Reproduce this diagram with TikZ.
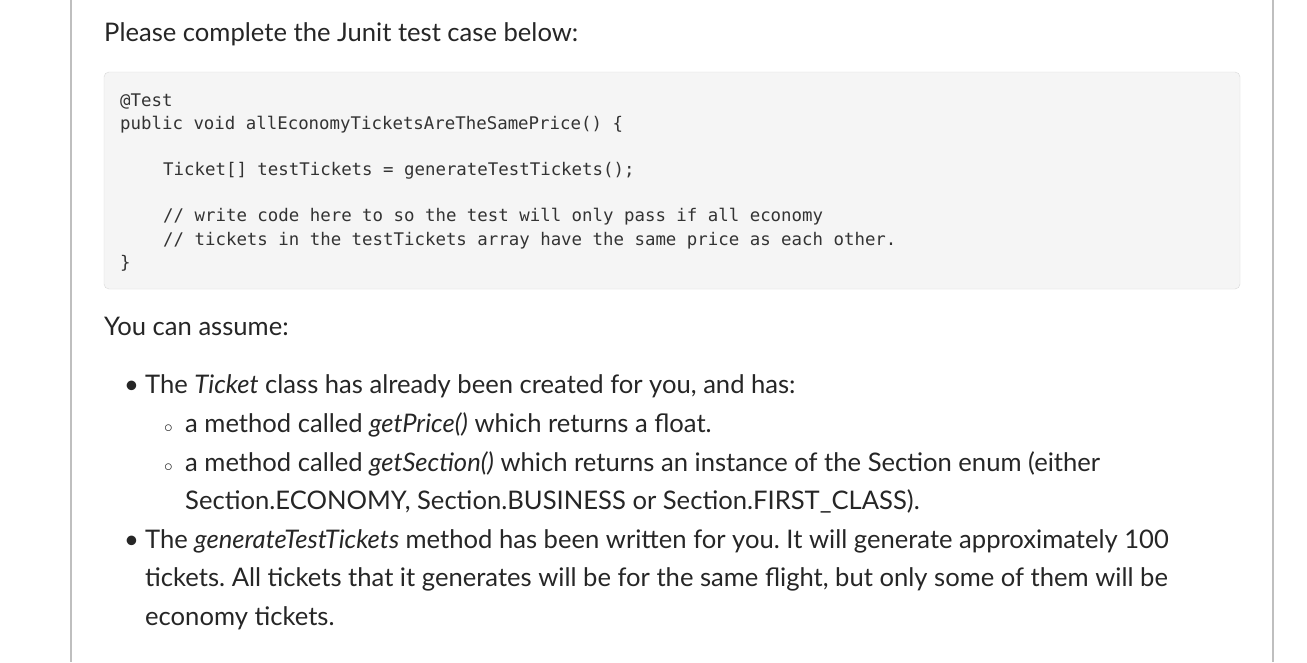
\documentclass[tikz,border=0pt]{standalone}
\usepackage{fontspec}
\setmainfont{Lato}
\setmonofont{DejaVu Sans Mono}
\begin{document}
\frenchspacing
\begin{tikzpicture}[x=1pt,y=-1pt,
  txt/.style={anchor=base west,inner sep=0pt,font=\fontsize{25.6}{30}\selectfont,text=black!85},
  code/.style={anchor=base west,inner sep=0pt,font=\ttfamily\fontsize{17.4}{20}\selectfont,text=black!80}]
\useasboundingbox (0,0) rectangle (1307,662);
\fill[white] (0,0) rectangle (1307,662);
\draw[black!25,line width=1.2] (71,0) -- (71,662) (1273,0) -- (1273,662);
\draw[black!15,fill=black!4,rounded corners=5] (104,72) rectangle (1240,289);
\node[txt] (t1) at (104,41) {Please complete the Junit test case below:};
\node[code] (c1) at (120,106) {@Test};
\node[code] (c2) at (120,129) {public void allEconomyTicketsAreTheSamePrice() \{};
\node[code] (c3) at (163,175) {Ticket[] testTickets = generateTestTickets();};
\node[code] (c4) at (163,221) {// write code here to so the test will only pass if all economy};
\node[code] (c5) at (163,245) {// tickets in the testTickets array have the same price as each other.};
\node[code] (c6) at (120,268) {\}};
\node[txt] (t2) at (104,335) {You can assume:};
\node[txt] (b1) at (124,393) {•};
\node[txt] (l1) at (145,393) {The \textit{Ticket} class has already been created for you, and has:};
\node[txt] (s1) at (164,432) {\fontsize{17}{20}\selectfont$\circ$};
\node[txt] (l2) at (185,432) {a method called \textit{getPrice()} which returns a float.};
\node[txt] (s2) at (164,471) {\fontsize{17}{20}\selectfont$\circ$};
\node[txt] (l3) at (185,471) {a method called \textit{getSection()} which returns an instance of the Section enum (either};
\node[txt] (l4) at (185,509) {Section.ECONOMY, Section.BUSINESS or Section.FIRST\_CLASS).};
\node[txt] (b2) at (124,548) {•};
\node[txt] (l5) at (145,548) {The \textit{generateTestTickets} method has been written for you. It will generate approximately 100};
\node[txt] (l6) at (145,586) {tickets. All tickets that it generates will be for the same flight, but only some of them will be};
\node[txt] (l7) at (145,625) {economy tickets.};
\end{tikzpicture}
\end{document}
